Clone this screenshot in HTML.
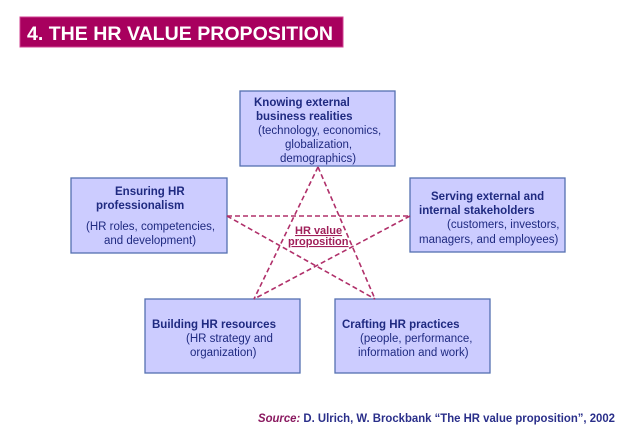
<!DOCTYPE html>
<html><head><meta charset="utf-8"><style>
html,body{margin:0;padding:0;background:#fff;}
svg{display:block;}
text{font-family:"Liberation Sans",Arial,sans-serif;}
.b{font-weight:bold;fill:#1f2a80;font-size:11.5px;}
.n{fill:#1f2a80;font-size:11.5px;}
</style></head><body>
<svg width="638" height="442" viewBox="0 0 638 442" xmlns="http://www.w3.org/2000/svg">
<rect x="20" y="17" width="323" height="30" fill="#a8005e"/>
<rect x="20" y="17" width="323" height="30" fill="none" stroke="#d04090" stroke-width="1"/>
<text x="27" y="40" fill="#fff" font-weight="bold" font-size="19.5" textLength="306" lengthAdjust="spacingAndGlyphs">4. THE HR VALUE PROPOSITION</text>

<g fill="#ccccff" stroke="#5570b0" stroke-width="1.3">
<rect x="240" y="91" width="155" height="75"/>
<rect x="71" y="178" width="156" height="75"/>
<rect x="410" y="178" width="155" height="74"/>
<rect x="145" y="299" width="155" height="74"/>
<rect x="335" y="299" width="155" height="74"/>
</g>

<g stroke="#b0306a" stroke-width="1.6" stroke-dasharray="5,3" fill="none">
<line x1="318" y1="167" x2="254" y2="299"/>
<line x1="318" y1="167" x2="375" y2="299"/>
<line x1="227" y1="216" x2="410" y2="216"/>
<line x1="227" y1="216" x2="375" y2="299"/>
<line x1="410" y1="216" x2="254" y2="299"/>
</g>

<text class="b" x="254" y="106">Knowing external</text>
<text class="b" x="256" y="120">business realities</text>
<text class="n" x="258" y="134">(technology, economics,</text>
<text class="n" x="285" y="148">globalization,</text>
<text class="n" x="280" y="162">demographics)</text>

<text class="b" x="115" y="195">Ensuring HR</text>
<text class="b" x="96" y="209">professionalism</text>
<text class="n" x="86" y="230">(HR roles, competencies,</text>
<text class="n" x="104" y="244">and development)</text>

<text class="b" x="431" y="200">Serving external and</text>
<text class="b" x="419" y="214">internal stakeholders</text>
<text class="n" x="447" y="228">(customers, investors,</text>
<text class="n" x="419" y="243">managers, and employees)</text>

<text class="b" x="152" y="328">Building HR resources</text>
<text class="n" x="186" y="342">(HR strategy and</text>
<text class="n" x="190" y="356">organization)</text>

<text class="b" x="342" y="328">Crafting HR practices</text>
<text class="n" x="360" y="342">(people, performance,</text>
<text class="n" x="358" y="356">information and work)</text>

<text x="295" y="234" fill="#a0205a" font-weight="bold" font-size="11" text-decoration="underline">HR value</text>
<text x="288" y="245" fill="#a0205a" font-weight="bold" font-size="11" text-decoration="underline">proposition</text>

<text x="258" y="422" font-size="12" font-weight="bold" fill="#2a2f8a" textLength="357" lengthAdjust="spacingAndGlyphs"><tspan font-style="italic" fill="#8a1a60">Source:</tspan> D. Ulrich, W. Brockbank “The HR value proposition”, 2002</text>
</svg>
</body></html>
